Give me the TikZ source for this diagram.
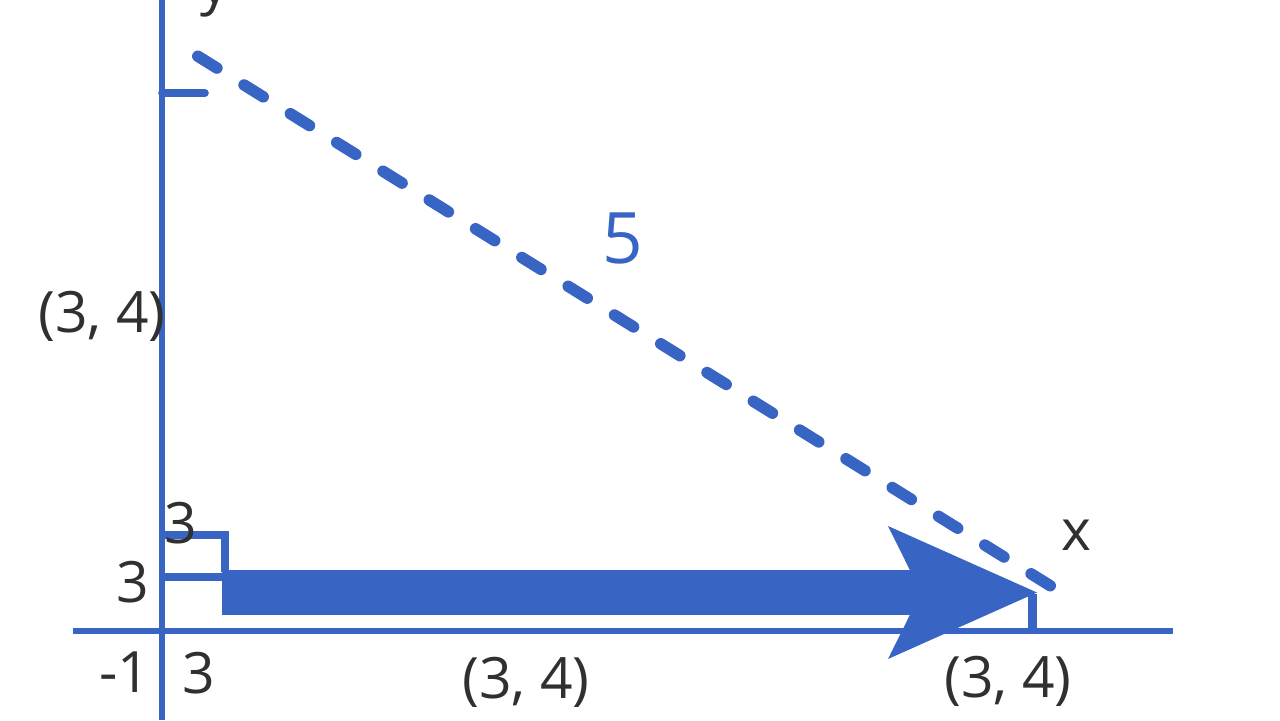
\documentclass[tikz,border=0pt]{standalone}
\usepackage{fontspec}
\setmainfont{Open Sans}
\usetikzlibrary{arrows.meta}
\definecolor{axblue}{RGB}{56,101,196}
\definecolor{txtgray}{RGB}{48,48,48}
\begin{document}
\begin{tikzpicture}[x=0.5pt,y=-0.5pt,
  axisline/.style={draw=axblue,line width=3pt},
  stepline/.style={draw=axblue,line width=3.8pt},
  dashline/.style={draw=axblue,line width=5.75pt,line cap=round,dash pattern=on 11.25pt off 16pt},
  lbl/.style={inner sep=0pt,anchor=base,text=txtgray,font=\fontsize{28.5}{34}\selectfont},
  biglbl/.style={inner sep=0pt,anchor=base,text=axblue,font=\fontsize{35.5}{42}\selectfont}]
\useasboundingbox (0,0) rectangle (1280,720);
% coordinates
\coordinate (ytop) at (162,0);
\coordinate (ybot) at (162,720);
\coordinate (xl) at (73,631);
\coordinate (xr) at (1173,631);
\coordinate (tickA) at (162,93);
\coordinate (tickB) at (205,93);
\coordinate (dA) at (197.8,56.2);
\coordinate (dB) at (1051.2,586.3);
\coordinate (s1) at (162,535);
\coordinate (s2) at (225,535);
\coordinate (s3) at (225,572);
\coordinate (s4) at (162,577);
\coordinate (s5) at (225,577);
\coordinate (abody) at (222,592.5);
\coordinate (atip) at (1037,592.5);
\coordinate (t1) at (1032,594);
\coordinate (t2) at (1032,631);
% axes
\draw[axisline] (ytop) -- (ybot);
\draw[axisline] (xl) -- (xr);
\draw[stepline,line cap=round] (tickA) -- (tickB);
% step lines
\draw[stepline] (s1) -- (s2) -- (s3);
\draw[stepline] (s4) -- (s5);
\draw[stepline,line width=4.5pt] (t1) -- (t2);
% big arrow
\draw[draw=axblue,line width=22.5pt,
  -{Stealth[length=74.5pt,width=66.5pt,inset=16.5pt,line width=0pt,fill=axblue]}] (abody) -- (atip);
% dashed hypotenuse
\draw[dashline] (dA) -- (dB);
% labels
\node[lbl] (ylab) at (215,3) {y};
\node[lbl] (xlab) at (1076,550) {x};
\node[biglbl] (five) at (623,263) {5};
\node[lbl] (pl) at (102,332) {(3, 4)};
\node[lbl] (pm) at (526,698) {(3, 4)};
\node[lbl] (pr) at (1008,697) {(3, 4)};
\node[lbl] (m1) at (125,692) {-1};
\node[lbl] (b3) at (199,693) {3};
\node[lbl] (l3) at (133,602) {3};
\node[lbl] (t3) at (181,543) {3};
\end{tikzpicture}
\end{document}
